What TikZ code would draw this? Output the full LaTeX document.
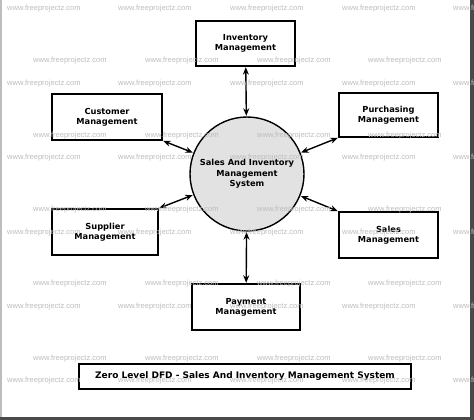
\documentclass[tikz,border=0pt]{standalone}
\usepackage{fontspec}
\setmainfont{DejaVu Sans}
\newfontfamily\wmfont{Liberation Sans}
\usetikzlibrary{arrows.meta}
\definecolor{circfill}{HTML}{E2E2E2}
\definecolor{wmgray}{HTML}{BDBDBD}
\definecolor{framedark}{HTML}{4A4A4A}
\definecolor{framelight}{HTML}{BDBDBD}
\tikzset{
  entity/.style={draw=black, line width=1.4pt, fill=white, align=center,
    font=\bfseries\fontsize{8.3}{10.2}\selectfont, inner sep=0pt},
  process/.style={draw=black, line width=1.4pt, fill=circfill, circle,
    minimum size=114pt, align=center, inner sep=0pt,
    font=\bfseries\fontsize{8.3}{10.3}\selectfont},
  flow/.style={line width=1.4pt, {Stealth[length=7.5pt,width=6pt]}-{Stealth[length=7.5pt,width=6pt]}, shorten <=0.5pt, shorten >=0.5pt},
  wmark/.style={anchor=west, text=wmgray, font=\wmfont\fontsize{7.5}{9}\selectfont, inner sep=0pt},
}
\begin{document}
\begin{tikzpicture}[x=1pt,y=-1pt]
\useasboundingbox (0,0) rectangle (474,420);
\clip (0,0) rectangle (474,420);
\fill[white] (0,0) rectangle (474,420);
% frame
\fill[framelight] (0,0) rectangle (2,420);
\fill[framedark] (470,0) rectangle (474,420);
\fill[framedark] (0,417) rectangle (474,420);

\node[process] (sys) at (247,174) {Sales And Inventory\\Management\\System};

\node[entity, minimum width=99pt, minimum height=45pt] (inv) at (245.5,43.5) {Inventory\\Management};
\node[entity, minimum width=110pt, minimum height=46pt] (cust) at (107,117) {Customer\\Management};
\node[entity, minimum width=99pt, minimum height=44pt] (purch) at (388.5,115) {Purchasing\\Management};
\node[entity, minimum width=106pt, minimum height=46pt] (sup) at (105,232) {Supplier\\Management};
\node[entity, minimum width=99pt, minimum height=46pt] (sales) at (388.5,235) {Sales\\Management};
\node[entity, minimum width=108pt, minimum height=46pt] (pay) at (246,307) {Payment\\Management};
\node[entity, minimum width=332pt, minimum height=25pt, font=\bfseries\fontsize{9}{11}\selectfont] (title) at (245,376.5) {Zero Level DFD - Sales And Inventory Management System};

\draw[flow] (inv) -- (sys);
\draw[flow] (cust.south east) -- (sys);
\draw[flow] (purch.south west) -- (sys);
\draw[flow] (sup.north east) -- (sys);
\draw[flow] (sales.north west) -- (sys);
\draw[flow] (pay) -- (sys);

% watermarks
\foreach \k in {0,...,5} {
  \foreach \x in {7,118,230,342,453} {
    \node[wmark] at (\x, 9+74.4*\k) {www.freeprojectz.com};
  }
}
\foreach \k in {0,...,4} {
  \foreach \x in {33,145,257,368} {
    \node[wmark] at (\x, 61+74.3*\k) {www.freeprojectz.com};
  }
}
\end{tikzpicture}
\end{document}
